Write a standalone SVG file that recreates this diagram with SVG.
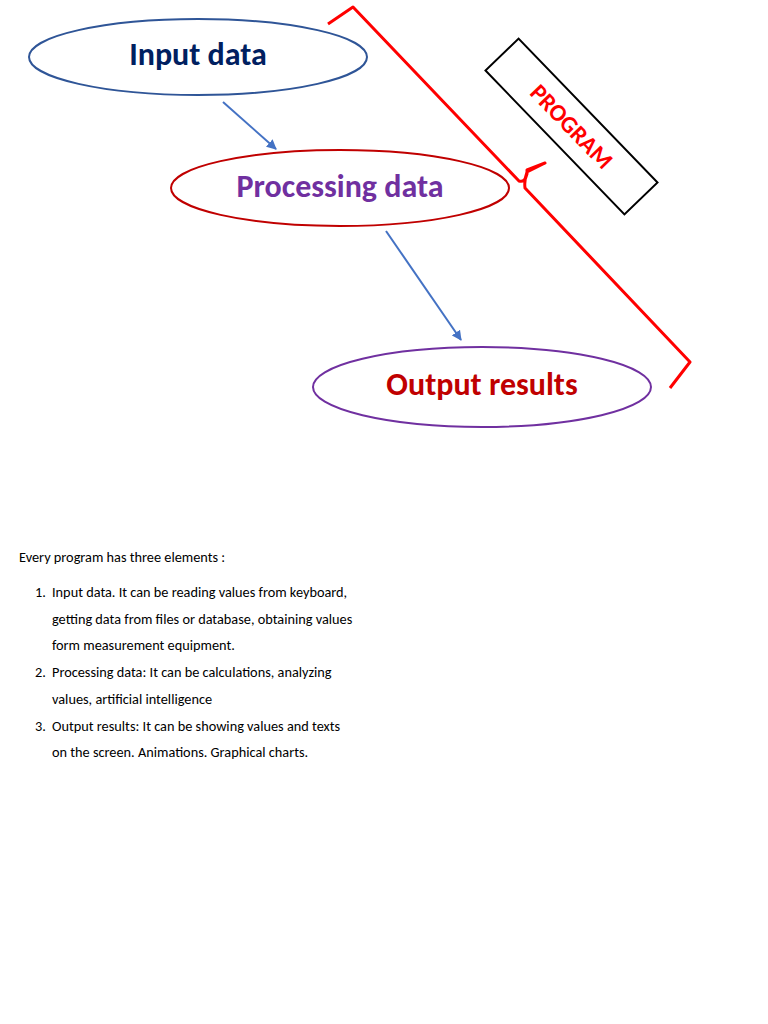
<svg xmlns="http://www.w3.org/2000/svg" width="768" height="1024" viewBox="0 0 768 1024">
<defs>
<style>
.t{font-family:Calibri,Carlito,"Liberation Sans",sans-serif;font-weight:bold;font-size:32px;text-anchor:middle}
.b{font-family:Calibri,Carlito,"Liberation Sans",sans-serif;font-size:14.3px;fill:#000}
.c{stroke:#4472C4;stroke-width:2;fill:none;marker-end:url(#a)}
</style>
<marker id="a" viewBox="0 0 10 10" refX="9" refY="5" markerWidth="5" markerHeight="5" orient="auto"><path d="M0,0L10,5L0,10z" fill="#4472C4"/></marker>
</defs>
<rect width="768" height="1024" fill="#fff"/>
<g id="input"><ellipse cx="198" cy="57" rx="169" ry="38" fill="#fff" stroke="#2F5597" stroke-width="2"/><text class="t" x="198" y="65" fill="#002060">Input data</text></g>
<g id="processing"><ellipse cx="340" cy="188" rx="169" ry="38" fill="#fff" stroke="#C00000" stroke-width="2"/><text class="t" x="340" y="197" fill="#7030A0">Processing data</text></g>
<g id="output"><ellipse cx="482" cy="387" rx="169" ry="40" fill="#fff" stroke="#7030A0" stroke-width="2"/><text class="t" x="482" y="395" fill="#C00000">Output results</text></g>
<g id="connectors">
<line class="c" x1="223" y1="102" x2="276" y2="149"/>
<line class="c" x1="386" y1="231" x2="461" y2="340"/>
</g>
<g id="bracket"><path d="M328,24 L353,7 L519,181 Q525,183 527,174 L527,170 L545,163 L527,172 Q524,180 525,188 L690,362 L670,388" fill="none" stroke="#FF0000" stroke-width="3" stroke-linejoin="round"/></g>
<g id="program" transform="translate(571.5,126.5) rotate(46)"><rect x="-100" y="-23" width="200" height="46" fill="#fff" stroke="#000" stroke-width="2"/><text x="0" y="8" font-family="Calibri,Carlito,'Liberation Sans',sans-serif" font-weight="bold" font-size="24" fill="#FF0000" text-anchor="middle">PROGRAM</text></g>
<g id="text">
<text class="b" x="19" y="562">Every program has three elements :</text>
<text class="b" x="35" y="597">1.</text><text class="b" x="52" y="597">Input data. It can be reading values from keyboard,</text>
<text class="b" x="52" y="624">getting data from files or database, obtaining values</text>
<text class="b" x="52" y="650">form measurement equipment.</text>
<text class="b" x="35" y="677">2.</text><text class="b" x="52" y="677">Processing data: It can be calculations, analyzing</text>
<text class="b" x="52" y="704">values, artificial intelligence</text>
<text class="b" x="35" y="731">3.</text><text class="b" x="52" y="731">Output results: It can be showing values and texts</text>
<text class="b" x="52" y="757">on the screen. Animations. Graphical charts.</text>
</g>
</svg>
